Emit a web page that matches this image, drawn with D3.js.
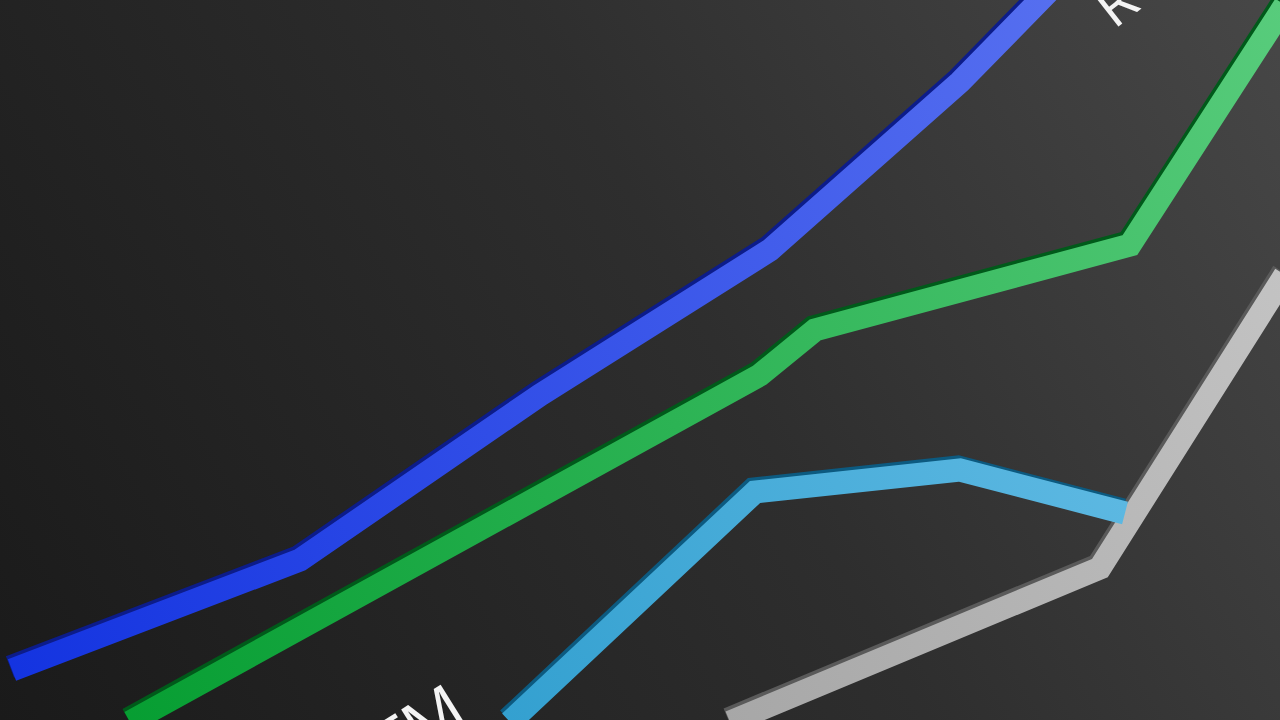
<!DOCTYPE html>
<html><head><meta charset="utf-8">
<script src="https://cdn.jsdelivr.net/npm/d3@7"></script>
<style>html,body{margin:0;padding:0;background:#222;overflow:hidden}</style>
</head><body>
<svg id="chart" width="1280" height="720"></svg>
<script>
// Data (abstract units)
const seriesNames = ["Blue", "Green", "Cyan", "Gray"];
const blueX  = [0.12, 3.0, 5.4, 7.7, 9.6, 10.5];
const blueY  = [5.0, 16.0, 32.5, 47.0, 63.8, 73.0];
const greenX = [1.3, 7.6, 8.15, 11.3, 12.85];
const greenY = [-0.2, 34.5, 39.0, 47.5, 71.5];
const cyanX  = [5.1, 7.55, 9.6, 11.25];
const cyanY  = [-0.2, 22.8, 25.0, 20.7];
const grayX  = [7.3, 11.0, 12.85];
const grayY  = [-0.2, 15.2, 44.5];
const labels = ["TM", "R"];

const W = 1280, H = 720;
const svg = d3.select("#chart");
const x = d3.scaleLinear().domain([0, 12.8]).range([0, W]);
const y = d3.scaleLinear().domain([0, 72]).range([H, 0]);

const defs = svg.append("defs");
const bg = defs.append("linearGradient").attr("id","bg")
  .attr("gradientUnits","userSpaceOnUse").attr("x1",0).attr("y1",H).attr("x2",W).attr("y2",0);
bg.append("stop").attr("offset","0%").attr("stop-color","#1a1a1a");
bg.append("stop").attr("offset","55%").attr("stop-color","#2e2e2e");
bg.append("stop").attr("offset","100%").attr("stop-color","#474747");
svg.append("rect").attr("width",W).attr("height",H).attr("fill","url(#bg)");

const styles = [
  {id:"gBlue", c0:"#1232e0", c1:"#6078f2", edge:"#0c1c8a"},
  {id:"gGreen", c0:"#009a2c", c1:"#58cc7c", edge:"#005a1a"},
  {id:"gCyan", c0:"#1890c4", c1:"#74c6ec", edge:"#0c5a80"},
  {id:"gGray", c0:"#8e8e8e", c1:"#c8c8c8", edge:"#5a5a5a"}
];
styles.forEach(s => {
  const g = defs.append("linearGradient").attr("id", s.id)
    .attr("gradientUnits","userSpaceOnUse").attr("x1",0).attr("y1",H).attr("x2",W).attr("y2",0);
  g.append("stop").attr("offset","0%").attr("stop-color", s.c0);
  g.append("stop").attr("offset","100%").attr("stop-color", s.c1);
});

const series = [
  {name: seriesNames[0], xs: blueX, ys: blueY, st: styles[0]},
  {name: seriesNames[1], xs: greenX, ys: greenY, st: styles[1]},
  {name: seriesNames[2], xs: cyanX, ys: cyanY, st: styles[2]},
  {name: seriesNames[3], xs: grayX, ys: grayY, st: styles[3]}
];
const line = d3.line().x(d => x(d[0])).y(d => y(d[1]));

// draw back to front: gray, cyan, green, blue
[...series].reverse().forEach(s => {
  const pts = s.xs.map((v,i) => [v, s.ys[i]]);
  const g = svg.append("g");
  g.append("path").attr("d", line(pts))
    .attr("transform","translate(-2,-3)")
    .attr("fill","none").attr("stroke", s.st.edge).attr("stroke-width", 23)
    .attr("stroke-linejoin","miter").attr("stroke-linecap","butt");
  g.append("path").attr("d", line(pts))
    .attr("fill","none").attr("stroke", `url(#${s.st.id})`).attr("stroke-width", 23)
    .attr("stroke-linejoin","miter").attr("stroke-linecap","butt");
});

svg.append("text").text(labels[0])
  .attr("transform","translate(390,772) rotate(-32)")
  .attr("font-family","Open Sans, sans-serif").attr("font-size",66).attr("font-weight",500)
  .attr("fill","#f4f4f4");
svg.append("text").text(labels[1])
  .attr("transform","translate(1114,30) rotate(-38)")
  .attr("font-family","Open Sans, sans-serif").attr("font-size",58).attr("font-weight",500)
  .attr("fill","#f4f4f4");
</script>
</body></html>
